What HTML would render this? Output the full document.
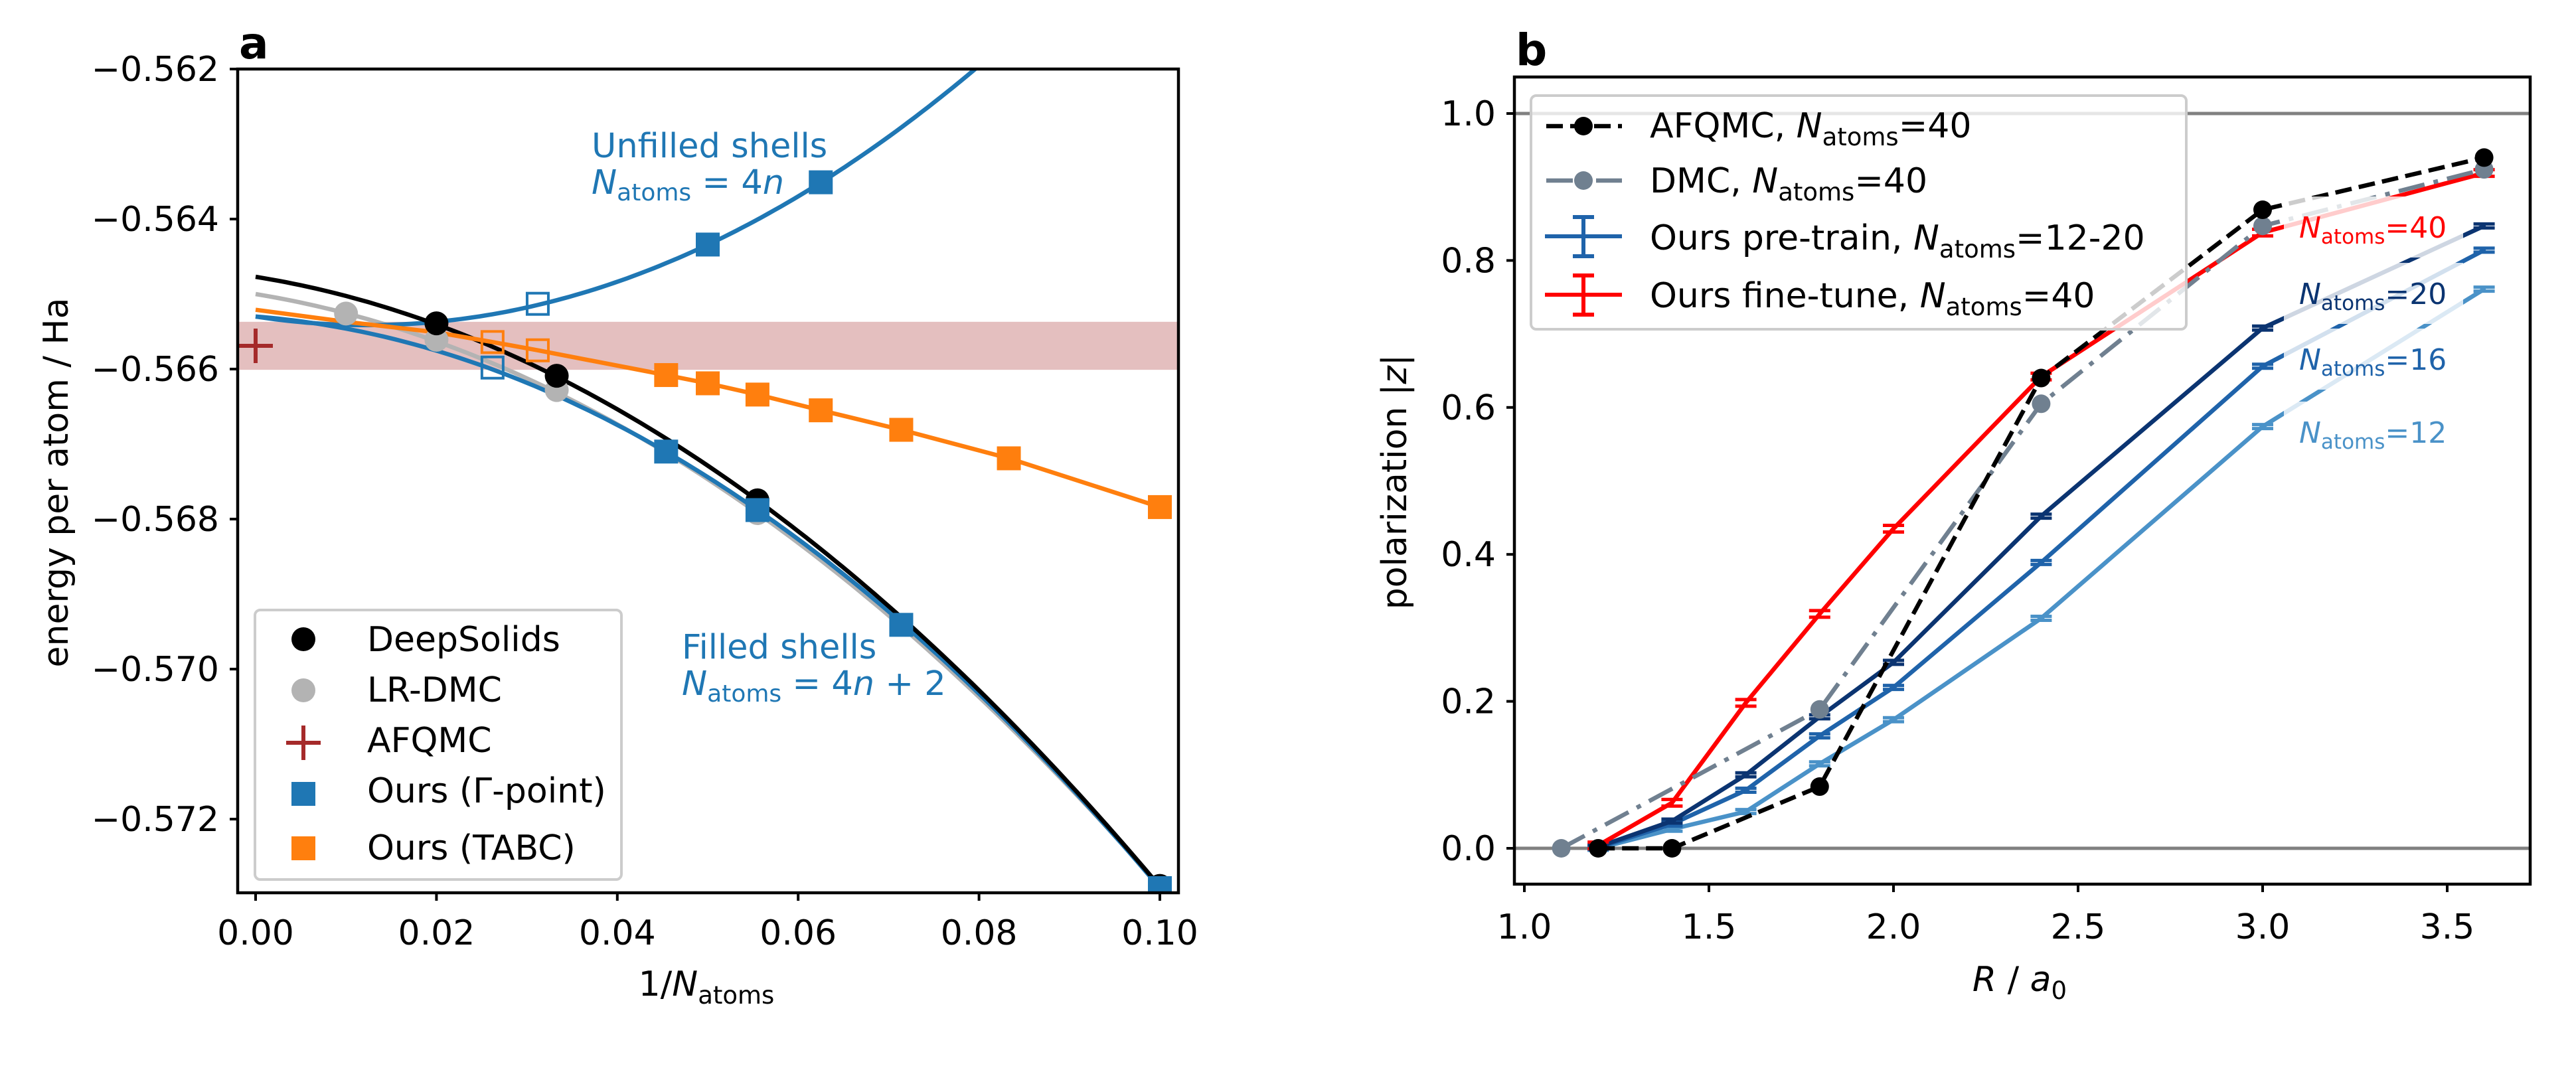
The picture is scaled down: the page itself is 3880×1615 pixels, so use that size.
<!DOCTYPE html>
<html><head><meta charset="utf-8"><style>
html,body{margin:0;padding:0;background:#fff}
svg{display:block}
text{font-family:"DejaVu Sans","Liberation Sans",sans-serif}
</style></head><body>
<svg id="s" xmlns="http://www.w3.org/2000/svg" width="3880" height="1615" viewBox="0 0 3880 1615"></svg>
<script>
var S=document.getElementById('s');var out='';var LW=6.5;
function ax(v){return 385+13620*v;}
function ay(v){return 104+(-0.562-v)*113000;}
function bx(r){return 2296+(r-1)*556;}
function by(v){return 1278-1107*v;}
function pl(pts,st){return '<polyline fill="none" points="'+pts.map(function(p){return p[0].toFixed(1)+','+p[1].toFixed(1)}).join(' ')+'" '+st+'/>';}
function curve(a,b,c,x0,x1,fx,fy){var p=[];for(var i=0;i<=120;i++){var x=x0+(x1-x0)*i/120;p.push([fx(x),fy(a+b*x+c*x*x)]);}return p;}
out+='<defs><clipPath id="ca"><rect x="358" y="104" width="1417" height="1241"/></clipPath><clipPath id="cb"><rect x="2281" y="116" width="1530" height="1216"/></clipPath></defs>';
out+='<g clip-path="url(#ca)">';
out+='<rect x="358" y="'+ay(-0.56537)+'" width="1417" height="'+(ay(-0.56601)-ay(-0.56537))+'" fill="#e4bfbf"/>';
out+=pl(curve(-0.5650,-0.0197,-0.593,0,0.1,ax,ay),'stroke="#b3b3b3" stroke-width="'+LW+'"');
out+=pl(curve(-0.5653,-0.0094,-0.668,0,0.1,ax,ay),'stroke="#1f77b4" stroke-width="'+LW+'"');
out+=pl(curve(-0.5653,-0.0186,0.755,0,0.085,ax,ay),'stroke="#1f77b4" stroke-width="'+LW+'"');
out+=pl(curve(-0.56477,-0.0194,-0.619,0,0.1,ax,ay),'stroke="#000" stroke-width="'+LW+'"');
var tab=[[0,-0.56521],[0.01,-0.56537],[0.02,-0.56551],[0.0262,-0.56564],[0.0312,-0.56575],[0.0454,-0.56608],[0.05,-0.56619],[0.0555,-0.56634],[0.0625,-0.56655],[0.0714,-0.56681],[0.0833,-0.56719],[0.1,-0.56784]];
out+=pl(tab.map(function(p){return [ax(p[0]),ay(p[1])]}),'stroke="#ff7f0e" stroke-width="'+LW+'"');
function sq(x,y,c,open){var h=18;return open?'<rect x="'+(x-h+2)+'" y="'+(y-h+2)+'" width="'+(2*h-4)+'" height="'+(2*h-4)+'" fill="none" stroke="'+c+'" stroke-width="4"/>':'<rect x="'+(x-h)+'" y="'+(y-h)+'" width="'+(2*h)+'" height="'+(2*h)+'" fill="'+c+'"/>';}
function ci(x,y,c,r){return '<circle cx="'+x+'" cy="'+y+'" r="'+(r||18)+'" fill="'+c+'"/>';}
[[0.01,-0.56526],[0.02,-0.56561],[0.0333,-0.56628],[0.0555,-0.56792]].forEach(function(p){out+=ci(ax(p[0]),ay(p[1]),'#b3b3b3');});
[[0.02,-0.56539],[0.0333,-0.56609],[0.0555,-0.56775],[0.1,-0.57289]].forEach(function(p){out+=ci(ax(p[0]),ay(p[1]),'#000');});
[[0.0454,-0.5671],[0.0555,-0.56788],[0.0714,-0.56941],[0.1,-0.57292],[0.05,-0.56434],[0.0625,-0.56351]].forEach(function(p){out+=sq(ax(p[0]),ay(p[1]),'#1f77b4');});
[[0.0262,-0.56598],[0.0312,-0.56513]].forEach(function(p){out+=sq(ax(p[0]),ay(p[1]),'#1f77b4',true);});
tab.slice(5).forEach(function(p){out+=sq(ax(p[0]),ay(p[1]),'#ff7f0e');});
tab.slice(3,5).forEach(function(p){out+=sq(ax(p[0]),ay(p[1]),'#ff7f0e',true);});
out+='</g>';
var cx=ax(0),cy=ay(-0.56569);
out+='<path d="M'+(cx-26)+','+cy+'H'+(cx+26)+'M'+cx+','+(cy-26)+'V'+(cy+26)+'" stroke="#a52a2a" stroke-width="6"/>';
out+='<rect x="358" y="104" width="1417" height="1241" fill="none" stroke="#000" stroke-width="4.5"/>';
for(var i=0;i<=5;i++){var v=-0.562-0.002*i,y=ay(v);out+='<line x1="346" x2="358" y1="'+y+'" y2="'+y+'" stroke="#000" stroke-width="4"/><text x="330" y="'+(y+18)+'" font-size="52" text-anchor="end">−'+(-v).toFixed(3)+'</text>';}
for(var i=0;i<=5;i++){var v=0.02*i,x=ax(v);out+='<line x1="'+x+'" x2="'+x+'" y1="1345" y2="1357" stroke="#000" stroke-width="4"/><text x="'+x+'" y="1423" font-size="52" text-anchor="middle">'+v.toFixed(2)+'</text>';}
out+='<text x="1064" y="1500" font-size="52" text-anchor="middle">1/<tspan font-style="italic">N</tspan><tspan font-size="37" dy="12">atoms</tspan></text>';
out+='<text transform="translate(102,727) rotate(-90)" font-size="52" text-anchor="middle">energy per atom / Ha</text>';
out+='<text x="360" y="88" font-size="66" font-weight="bold">a</text>';
out+='<g fill="#1f77b4" font-size="51"><text x="891" y="237">Unfilled shells</text><text x="891" y="292"><tspan font-style="italic">N</tspan><tspan font-size="36" dy="10">atoms</tspan><tspan dy="-10"> = 4</tspan><tspan font-style="italic">n</tspan></text>';
out+='<text x="1027" y="992">Filled shells</text><text x="1027" y="1047"><tspan font-style="italic">N</tspan><tspan font-size="36" dy="10">atoms</tspan><tspan dy="-10"> = 4</tspan><tspan font-style="italic">n</tspan><tspan> + 2</tspan></text></g>';
out+='<rect x="384" y="919" width="552" height="406" rx="8" fill="#fff" fill-opacity="0.8" stroke="#cccccc" stroke-width="4"/>';
var lg=[['DeepSolids',981],['LR-DMC',1057],['AFQMC',1133],['Ours (Γ-point)',1209],['Ours (TABC)',1295]];
lg.forEach(function(e){out+='<text x="553" y="'+e[1]+'" font-size="52">'+e[0]+'</text>';});
out+=ci(457,963,'#000',18)+ci(457,1040,'#b3b3b3',18);
out+='<path d="M431,1119H483M457,1093V1145" stroke="#a52a2a" stroke-width="6"/>';
out+=sq(457,1196,'#1f77b4')+sq(457,1278,'#ff7f0e');
out+='<line x1="2281" x2="3811" y1="'+by(1)+'" y2="'+by(1)+'" stroke="#808080" stroke-width="5"/>';
out+='<line x1="2281" x2="3811" y1="'+by(0)+'" y2="'+by(0)+'" stroke="#808080" stroke-width="5"/>';
out+='<g clip-path="url(#cb)">';
var R=[1.2,1.4,1.6,1.8,2.0,2.4,3.0,3.6];
function ser(vals,c,eb){var p=R.map(function(r,i){return [bx(r),by(vals[i])]});var s=pl(p,'stroke="'+c+'" stroke-width="'+LW+'"');p.forEach(function(q){s+='<line x1="'+(q[0]-16)+'" x2="'+(q[0]+16)+'" y1="'+(q[1]-eb)+'" y2="'+(q[1]-eb)+'" stroke="'+c+'" stroke-width="5"/><line x1="'+(q[0]-16)+'" x2="'+(q[0]+16)+'" y1="'+(q[1]+eb)+'" y2="'+(q[1]+eb)+'" stroke="'+c+'" stroke-width="5"/><line x1="'+q[0]+'" x2="'+q[0]+'" y1="'+(q[1]-eb)+'" y2="'+(q[1]+eb)+'" stroke="'+c+'" stroke-width="5"/>';});return s;}
out+=ser([0,0.026,0.05,0.115,0.175,0.313,0.574,0.761],'#4a92c8',3);
out+=ser([0.001,0.033,0.079,0.153,0.219,0.389,0.656,0.814],'#1f63aa',3);
out+=ser([0.002,0.037,0.1,0.179,0.253,0.452,0.708,0.847],'#0b3471',3);
out+=ser([0.004,0.062,0.198,0.319,0.435,0.642,0.838,0.919],'#ff0000',5);
var dmc=[[1.1,0],[1.8,0.189],[2.4,0.605],[3.0,0.847],[3.6,0.924]].map(function(p){return [bx(p[0]),by(p[1])]});
out+=pl(dmc,'stroke="#708090" stroke-width="'+LW+'" stroke-dasharray="40,14,7,14"');
dmc.forEach(function(q){out+=ci(q[0],q[1],'#708090',14);});
var af=[[1.2,0],[1.4,0],[1.8,0.084],[2.4,0.64],[3.0,0.869],[3.6,0.94]].map(function(p){return [bx(p[0]),by(p[1])]});
out+=pl(af,'stroke="#000" stroke-width="'+LW+'" stroke-dasharray="25,11"');
af.forEach(function(q){out+=ci(q[0],q[1],'#000',14);});
out+='</g>';
[['#ff0000','40',358],['#0b3471','20',458],['#1f63aa','16',557],['#4a92c8','12',667]].forEach(function(e){
out+='<rect x="3440" y="'+(e[2]-62)+'" width="270" height="92" fill="#fff" fill-opacity="0.8"/>';
out+='<text x="3463" y="'+e[2]+'" font-size="44" fill="'+e[0]+'"><tspan font-style="italic">N</tspan><tspan font-size="31" dy="9">atoms</tspan><tspan dy="-9">='+e[1]+'</tspan></text>';});
out+='<rect x="2281" y="116" width="1530" height="1216" fill="none" stroke="#000" stroke-width="4.5"/>';
for(var i=0;i<=5;i++){var v=0.2*i,y=by(v);out+='<line x1="2269" x2="2281" y1="'+y+'" y2="'+y+'" stroke="#000" stroke-width="4"/><text x="2253" y="'+(y+18)+'" font-size="52" text-anchor="end">'+v.toFixed(1)+'</text>';}
for(var i=0;i<=5;i++){var r=1+0.5*i,x=bx(r);out+='<line x1="'+x+'" x2="'+x+'" y1="1332" y2="1344" stroke="#000" stroke-width="4"/><text x="'+x+'" y="1414" font-size="52" text-anchor="middle">'+r.toFixed(1)+'</text>';}
out+='<text x="3042" y="1493" font-size="52" text-anchor="middle"><tspan font-style="italic">R</tspan> / <tspan font-style="italic">a</tspan><tspan font-size="37" dy="12">0</tspan></text>';
out+='<text transform="translate(2118,726) rotate(-90)" font-size="52" text-anchor="middle">polarization |<tspan font-style="italic">z</tspan>|</text>';
out+='<text x="2283" y="98" font-size="66" font-weight="bold">b</text>';
out+='<rect x="2306" y="144" width="987" height="352" rx="8" fill="#fff" fill-opacity="0.8" stroke="#cccccc" stroke-width="4"/>';
var lb=[['AFQMC, ',207],['DMC, ',290],['Ours pre-train, ',376],['Ours fine-tune, ',463]];
var suf=['=40','=40','=12-20','=40'];
lb.forEach(function(e,i){out+='<text x="2485" y="'+e[1]+'" font-size="52">'+e[0]+'<tspan font-style="italic">N</tspan><tspan font-size="37" dy="12">atoms</tspan><tspan dy="-12">'+suf[i]+'</tspan></text>';});
out+='<line x1="2329" x2="2443" y1="190" y2="190" stroke="#000" stroke-width="'+LW+'" stroke-dasharray="25,11"/>'+ci(2385,190,'#000',14);
out+='<line x1="2329" x2="2443" y1="272" y2="272" stroke="#708090" stroke-width="'+LW+'" stroke-dasharray="40,14,7,14"/>'+ci(2385,272,'#708090',14);
out+='<path d="M2327,356H2443M2385,327V386M2369,327H2401M2369,386H2401" stroke="#1f63aa" stroke-width="6" fill="none"/>';
out+='<path d="M2327,444H2443M2385,415V474M2369,415H2401M2369,474H2401" stroke="#ff0000" stroke-width="6" fill="none"/>';
S.innerHTML=out;
</script>
</body></html>
